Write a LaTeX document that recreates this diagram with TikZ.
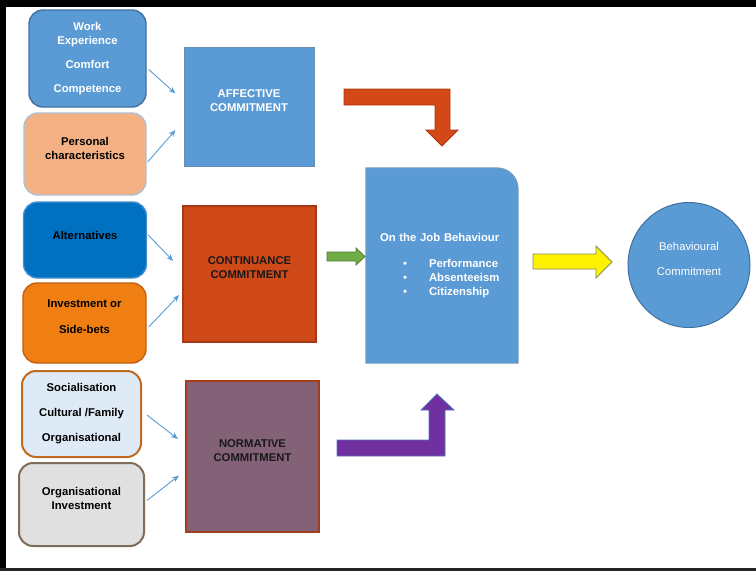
\documentclass[tikz,border=0pt]{standalone}
\usepackage{fontspec}
\setmainfont{Liberation Sans}
\usepackage{tikz}
\usetikzlibrary{arrows.meta, calc, shapes.geometric}
\definecolor{bluebox}{HTML}{5B9BD5}
\definecolor{blueline}{HTML}{41719C}
\definecolor{peach}{HTML}{F4B183}
\definecolor{peachline}{HTML}{AFBFD2}
\definecolor{altblue}{HTML}{0070C0}
\definecolor{altline}{HTML}{4A8FD0}
\definecolor{orangebox}{HTML}{EF7F12}
\definecolor{orangeline}{HTML}{C0600F}
\definecolor{paleblue}{HTML}{DEEBF7}
\definecolor{brownline}{HTML}{C06A20}
\definecolor{greybox}{HTML}{E0E0E0}
\definecolor{greyline}{HTML}{7D6D5A}
\definecolor{contred}{HTML}{D04A19}
\definecolor{contline}{HTML}{A8381A}
\definecolor{mauve}{HTML}{836278}
\definecolor{rustline}{HTML}{A23E1E}
\definecolor{redarrow}{HTML}{D44716}
\definecolor{redline}{HTML}{A93812}
\definecolor{greenarrow}{HTML}{70AD47}
\definecolor{greenline}{HTML}{4A7F2F}
\definecolor{yellowline}{HTML}{7F8C5A}
\definecolor{purplearrow}{HTML}{7030A0}
\definecolor{purpleline}{HTML}{5575C0}

\begin{document}
\begin{tikzpicture}[x=1pt, y=-1pt, font=\fontsize{11.3}{14}\selectfont\bfseries,
    srcbox/.style={draw, line width=1.4pt, rounded corners=14pt, align=center, inner sep=0pt},
    commbox/.style={draw, line width=1.6pt, inner sep=0pt},
    feed/.style={-{Stealth[length=7pt, width=5.5pt]}, line width=0.9pt, bluebox},
    blockarrow/.style={line width=0.8pt, line join=miter}]
    \useasboundingbox (0,0) rectangle (756,571);
    % frame edges
    \fill[black] (0,0) rectangle (756,7);
    \fill[black] (0,0) rectangle (6,571);
    \fill[black!85] (0,568) rectangle (756,571);

    % sources
    \node[srcbox, fill=bluebox, draw=blueline, text=white, minimum width=117pt, minimum height=97pt] (work) at (87.5,58.5) {Work\\Experience\\[10pt]Comfort\\[10pt]Competence};
    \node[srcbox, fill=peach, draw=peachline, minimum width=122pt, minimum height=82pt] (pers) at (85,154) {};
    \node[align=center] (perstext) at ($(pers)+(0,-5.5)$) {Personal\\characteristics};
    \node[srcbox, fill=altblue, draw=altline, minimum width=123pt, minimum height=76pt] (alt) at (85,240) {};
    \node (alttext) at ($(alt)+(0,-5)$) {Alternatives};
    \node[srcbox, fill=orangebox, draw=orangeline, minimum width=123pt, minimum height=80pt] (inv) at (84.5,323) {};
    \node[align=center] (invtext) at ($(inv)+(0,-6)$) {Investment or\\[12pt]Side-bets};
    \node[srcbox, fill=paleblue, draw=brownline, line width=2pt, minimum width=119pt, minimum height=86pt] (soc) at (81.5,414) {Socialisation\\[11pt]Cultural /Family\\[11pt]Organisational};
    \node[srcbox, fill=greybox, draw=greyline, line width=2pt, minimum width=125pt, minimum height=83pt] (orgi) at (81.5,504.5) {};
    \node[align=center] (orgitext) at ($(orgi)+(0,-6)$) {Organisational\\Investment};

    % commitments
    \node[commbox, fill=bluebox, draw=blueline!80, line width=1pt, minimum width=130pt, minimum height=119pt] (aff) at (249,106.5) {};
    \node[align=center, text=white] (afftext) at ($(aff)+(0,-6)$) {AFFECTIVE\\COMMITMENT};
    \node[commbox, fill=contred, draw=contline, minimum width=133pt, minimum height=136pt] (cont) at (249.5,274) {};
    \node[align=center, text=black!90] (conttext) at ($(cont)+(0,-6)$) {CONTINUANCE\\COMMITMENT};
    \node[commbox, fill=mauve, draw=rustline, line width=2pt, minimum width=133pt, minimum height=151pt] (norm) at (252.5,456.5) {};
    \node[align=center, text=black!90] (normtext) at ($(norm)+(0,-6)$) {NORMATIVE\\COMMITMENT};

    \draw[feed] ($(work.east)+(2,11)$) -- ($(aff.west)+(-8,-13)$);
    \draw[feed] ($(pers.east)+(1,8)$) -- ($(aff.west)+(-8,23.5)$);
    \draw[feed] ($(alt.east)+(1,-5)$) -- ($(cont.west)+(-9,-13)$);
    \draw[feed] ($(inv.east)+(2,4)$) -- ($(cont.west)+(-3,21)$);
    \draw[feed] ($(soc.east)+(5,1)$) -- ($(norm.west)+(-7,-17.5)$);
    \draw[feed] ($(orgi.east)+(2,-4)$) -- ($(norm.west)+(-6,19)$);

    % behaviour
    \node[minimum width=152pt, minimum height=195pt, inner sep=0pt] (job) at (442,265.5) {};
    \filldraw[fill=bluebox, draw=blueline!70, line width=0.8pt] (job.south west) -- (job.north west) -- ($(job.north east)+(-21,0)$) arc[start angle=90, end angle=0, radius=21pt] -- (job.south east) -- cycle;
    \node[text=white, align=left, text width=126pt, inner xsep=0pt] (jobtext) at ($(job)+(1,0)$) {On the Job Behaviour\\[12pt]
        \hspace*{23pt}\makebox[26pt][l]{\mdseries\textbullet}Performance\\
        \hspace*{23pt}\makebox[26pt][l]{\mdseries\textbullet}Absenteeism\\
        \hspace*{23pt}\makebox[26pt][l]{\mdseries\textbullet}Citizenship};

    \node[ellipse, fill=bluebox, draw=blueline, line width=1pt, minimum width=122pt, minimum height=125pt] (circ) at (689,265) {};
    \node[align=center, text=white, font=\fontsize{11.3}{14}\selectfont\mdseries] (circtext) at ($(circ)+(0,-6.5)$) {Behavioural\\[11pt]Commitment};

    % block arrows
    \filldraw[blockarrow, fill=redarrow, draw=redline] (344,89) -- (450,89) -- (450,130) -- (458,130) -- (442,146) -- (426,130) -- (435,130) -- (435,105) -- (344,105) -- cycle;
    \filldraw[blockarrow, fill=greenarrow, draw=greenline] (327,252) -- (356,252) -- (356,248) -- (365,256.5) -- (356,265) -- (356,261) -- (327,261) -- cycle;
    \filldraw[blockarrow, fill=yellow, draw=yellowline] (533,254) -- (596,254) -- (596,246) -- (612,262) -- (596,278) -- (596,269) -- (533,269) -- cycle;
    \filldraw[blockarrow, fill=purplearrow, draw=purpleline] (337,456) -- (445,456) -- (445,410) -- (454,410) -- (437,394) -- (421,410) -- (429,410) -- (429,440) -- (337,440) -- cycle;
\end{tikzpicture}
\end{document}
